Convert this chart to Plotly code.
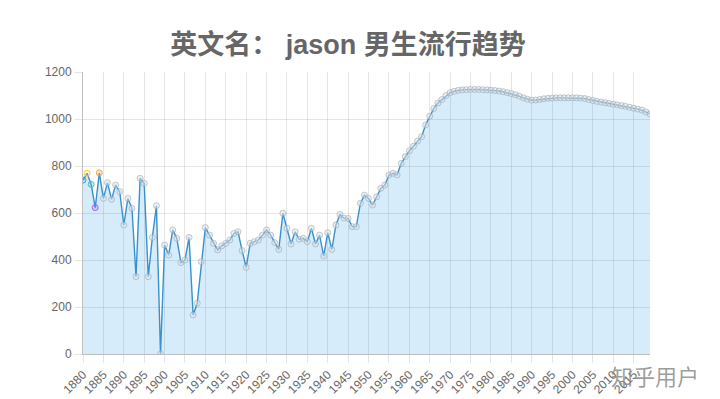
import plotly.graph_objects as go

years = list(range(1880, 2020))

counts_1880_1919 = [740, 769, 722, 623, 771, 662, 729, 658, 719, 691,
                    549, 662, 620, 329, 748, 726, 329, 496, 631, 0,
                    464, 421, 528, 492, 389, 400, 496, 166, 216, 393,
                    538, 506, 471, 443, 460, 471, 485, 513, 520, 440]
counts_1920_1969 = [369, 471, 478, 485, 506, 528, 506, 474, 445, 599,
                    535, 468, 520, 488, 492, 478, 535, 468, 506, 417,
                    516, 445, 549, 594, 578, 577, 542, 542, 641, 676,
                    662, 634, 669, 705, 719, 762, 769, 762, 811, 840,
                    865, 884, 906, 925, 975, 1012, 1045, 1068, 1083, 1100]
counts_1970_2019 = [1112, 1118, 1122, 1124, 1125, 1126, 1126, 1126, 1125, 1124,
                    1123, 1121, 1119, 1116, 1112, 1108, 1103, 1097, 1090, 1084,
                    1080, 1081, 1083, 1086, 1088, 1089, 1090, 1090, 1090, 1090,
                    1090, 1090, 1089, 1087, 1083, 1079, 1075, 1072, 1069, 1066,
                    1063, 1060, 1057, 1054, 1050, 1046, 1042, 1038, 1030, 1022]
counts = counts_1880_1919 + counts_1920_1969 + counts_1970_2019

tick_years = list(range(1880, 2020, 5))
tick_labels = [str(y) for y in tick_years]

title_text = "英文名： jason 男生流行趋势"
watermark = "知乎用户"

highlight = ["rgb(54,162,235)", "rgb(255,205,86)", "rgb(75,192,192)",
             "rgb(153,102,255)", "rgb(255,159,64)"]
highlight_fill = ["rgba(54,162,235,0.25)", "rgba(255,205,86,0.25)", "rgba(75,192,192,0.25)",
                  "rgba(153,102,255,0.25)", "rgba(255,159,64,0.25)"]
n = len(years)
border = highlight + ["rgba(150,160,170,0.55)"] * (n - len(highlight))
fillc = highlight_fill + ["rgba(220,225,230,0.5)"] * (n - len(highlight))

fig = go.Figure()
fig.add_trace(go.Scatter(
    x=years, y=counts, mode="lines+markers",
    line=dict(color="rgb(55,145,205)", width=1.4),
    fill="tozeroy", fillcolor="rgba(54,162,235,0.2)",
    marker=dict(size=6, color=fillc, line=dict(color=border, width=1)),
    hoverinfo="x+y", showlegend=False,
))

font_fam = "Liberation Sans, Arial, Noto Sans CJK SC, sans-serif"
fig.update_layout(
    width=720, height=399,
    margin=dict(l=83, r=70, t=72, b=45, autoexpand=False),
    paper_bgcolor="white", plot_bgcolor="white",
    font=dict(family=font_fam, size=12, color="#666"),
    title=dict(text="<b>" + title_text + "</b>", x=348 / 720, xanchor="center",
               y=1 - 45 / 399, yanchor="middle", yref="container",
               font=dict(size=27, color="#666", family=font_fam)),
    xaxis=dict(range=[1880, 2019], tickmode="array", tickvals=tick_years,
               ticktext=tick_labels, tickangle=-45, showgrid=True, automargin=False,
               gridcolor="rgba(0,0,0,0.1)", gridwidth=1, zeroline=False,
               showline=True, linecolor="rgba(0,0,0,0.25)", linewidth=1,
               ticks="outside", ticklen=8, tickcolor="rgba(0,0,0,0.1)",
               tickfont=dict(size=12, color="#666")),
    yaxis=dict(range=[0, 1200], tickmode="array", tickvals=list(range(0, 1201, 200)),
               showgrid=True, gridcolor="rgba(0,0,0,0.1)", zeroline=False, automargin=False,
               showline=True, linecolor="rgba(0,0,0,0.25)", linewidth=1,
               ticks="outside", ticklen=8, tickcolor="rgba(0,0,0,0.1)",
               tickfont=dict(size=12, color="#666")),
    annotations=[dict(text=watermark, xref="paper", yref="paper",
                      x=(655 - 83) / 567, y=-(375 - 354) / 282,
                      xanchor="center", yanchor="middle", showarrow=False,
                      font=dict(size=22, color="rgba(140,140,140,0.85)",
                                family="Noto Sans CJK SC"))],
)

fig.write_html("out.html")
